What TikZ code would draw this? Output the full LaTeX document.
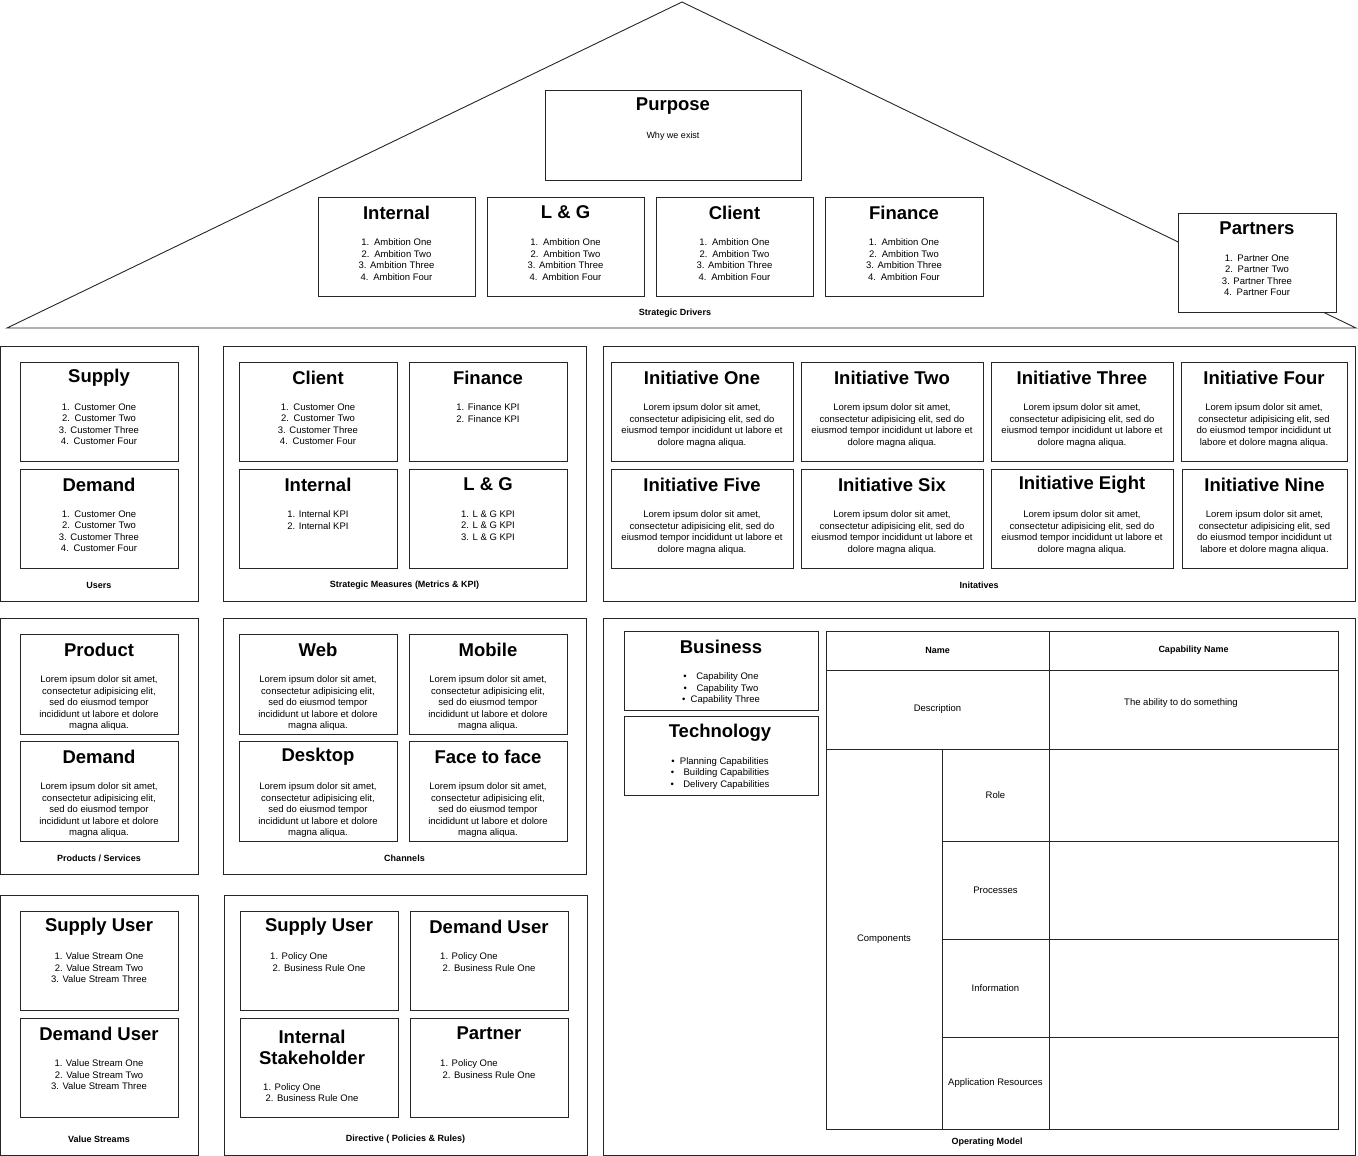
\documentclass[tikz,border=0pt]{standalone}
\usepackage{fontspec}
\setmainfont{Liberation Sans}
\usetikzlibrary{fit}
\begin{document}
\begin{tikzpicture}[x=1pt,y=-1pt,
  ln/.style={draw=black!85,line width=0.9pt},
  box/.style={ln,inner sep=0pt,fill=white},
  ttl/.style={font=\bfseries\fontsize{18.5}{21}\selectfont,align=center},
  bdy/.style={font=\fontsize{9.5}{11.5}\selectfont,align=center,anchor=north,inner sep=0pt},
  lbl/.style={font=\bfseries\fontsize{9}{11}\selectfont},
  cell/.style={font=\fontsize{9.5}{11.5}\selectfont}]
\newcommand\card[7]{%
  \node[box,fit={(#2,#3)(#4,#5)}] (#1) {};
  \node[ttl] (#1t) at ([yshift=-16pt]#1.north) {#6};
  \node[bdy] (#1b) at ([yshift=-42pt]#1.north) {#7};}
\newcommand\panel[6]{%
  \node[box,fit={(#2,#3)(#4,#5)}] (#1) {};
  \node[lbl] (#1l) at ([yshift=16pt]#1.south) {#6};}
\useasboundingbox (0,0) rectangle (1358,1156);
% roof
\coordinate (rl) at (7,328); \coordinate (ra) at (682,2); \coordinate (rr) at (1356,328);
\draw[ln] (rl) -- (ra) -- (rr) -- cycle;
\node[lbl] (sd) at (675,313) {Strategic Drivers};
\node[box,fit={(545,90)(801,180)}] (pur) {};
\node[ttl] (purt) at (673,106) {Purpose};
\node[cell] (purb) at (673,136) {\fontsize{9}{11}\selectfont Why we exist};
\newcommand\amb{1.\enspace Ambition One\\2.\enspace Ambition Two\\3. Ambition Three\\4.\enspace Ambition Four}
\card{a1}{318}{197}{475}{296}{Internal}{\amb}
\card{a2}{487}{197}{644}{296}{L \& G}{\amb}
\card{a3}{656}{197}{813}{296}{Client}{\amb}
\card{a4}{825}{197}{983}{296}{Finance}{\amb}
\card{par}{1178}{213}{1336}{312}{Partners}{1.\enspace Partner One\\2.\enspace Partner Two\\3. Partner Three\\4.\enspace Partner Four}
% row 1
\panel{pu}{0}{346}{198}{601}{Users}
\panel{pm}{223}{346}{586}{601}{Strategic Measures (Metrics \& KPI)}
\panel{pi}{603}{346}{1355}{601}{Initatives}
\newcommand\cust{1.\enspace Customer One\\2.\enspace Customer Two\\3. Customer Three\\4.\enspace Customer Four}
\card{su}{20}{362}{178}{461}{Supply}{\cust}
\card{de}{20}{469}{178}{568}{Demand}{\cust}
\card{cl}{239}{362}{397}{461}{Client}{\cust}
\card{fi}{409}{362}{567}{461}{Finance}{1. Finance KPI\\2. Finance KPI}
\card{in}{239}{469}{397}{568}{Internal}{1. Internal KPI\\2. Internal KPI}
\card{lg}{409}{469}{567}{568}{L \& G}{1. L \& G KPI\\2. L \& G KPI\\3. L \& G KPI}
\newcommand\lorA{Lorem ipsum dolor sit amet,\\consectetur adipisicing elit, sed do\\eiusmod tempor incididunt ut labore et\\dolore magna aliqua.}
\newcommand\lorB{Lorem ipsum dolor sit amet,\\consectetur adipisicing elit, sed\\do eiusmod tempor incididunt ut\\labore et dolore magna aliqua.}
\card{i1}{611}{362}{793}{461}{Initiative One}{\lorA}
\card{i2}{801}{362}{983}{461}{Initiative Two}{\lorA}
\card{i3}{991}{362}{1173}{461}{Initiative Three}{\lorA}
\card{i4}{1181}{362}{1347}{461}{Initiative Four}{\lorB}
\card{i5}{611}{469}{793}{568}{Initiative Five}{\lorA}
\card{i6}{801}{469}{983}{568}{Initiative Six}{\lorA}
\card{i8}{991}{469}{1173}{568}{Initiative Eight}{\lorA}
\card{i9}{1182}{469}{1347}{568}{Initiative Nine}{\lorB}
% row 2
\panel{pp}{0}{618}{198}{874}{Products / Services}
\panel{pc}{223}{618}{586}{874}{Channels}
\node[box,fit={(603,618)(1355,1155)}] (po) {};
\node[lbl] (pol) at (987,1142) {Operating Model};
\newcommand\lorC{Lorem ipsum dolor sit amet,\\consectetur adipisicing elit,\\sed do eiusmod tempor\\incididunt ut labore et dolore\\magna aliqua.}
\card{pr}{20}{634}{178}{734}{Product}{\lorC}
\card{dm}{20}{741}{178}{841}{Demand}{\lorC}
\card{we}{239}{634}{397}{734}{Web}{\lorC}
\card{mo}{409}{634}{567}{734}{Mobile}{\lorC}
\card{dk}{239}{741}{397}{841}{Desktop}{\lorC}
\card{ff}{409}{741}{567}{841}{Face to face}{\lorC}
% row 3
\panel{pv}{0}{895}{198}{1155}{Value Streams}
\panel{pd}{224}{895}{587}{1155}{Directive ( Policies \& Rules)}
\newcommand\vs{1. Value Stream One\\2. Value Stream Two\\3. Value Stream Three}
\newcommand\pol{1. Policy One\phantom{Rule One}\\2. Business Rule One}
\card{vs1}{20}{911}{178}{1010}{Supply User}{\vs}
\card{vs2}{20}{1018}{178}{1117}{Demand User}{\vs}
\card{d1}{240}{911}{398}{1010}{Supply User}{\pol}
\card{d2}{410}{911}{568}{1010}{Demand User}{\pol}
\node[box,fit={(240,1018)(398,1117)}] (d3) {};
\node[ttl] (d3t) at (312,1047) {Internal\\Stakeholder};
\node[bdy] (d3b) at (312,1083) {\pol};
\card{d4}{410}{1018}{568}{1117}{Partner}{\pol}
% operating model
\card{bu}{624}{631}{818}{710}{Business}{\textbullet\quad Capability One\\\textbullet\quad Capability Two\\\textbullet\ \ Capability Three}
\node[box,fit={(624,716)(818,795)}] (te) {};
\node[ttl] (tet) at (720,733) {Technology};
\node[bdy] (teb) at (720,757) {\textbullet\ \ Planning Capabilities\\\textbullet\quad Building Capabilities\\\textbullet\quad Delivery Capabilities};
% table
\node[box,fit={(826,631)(1049,670)}] (tn) {};
\node[box,fit={(1049,631)(1338,670)}] (tcn) {};
\node[cell,font=\bfseries\fontsize{9}{11}\selectfont] at (tn) {Name};
\node[cell,font=\bfseries\fontsize{9}{11}\selectfont] at (tcn) {Capability Name};
\node[box,fit={(826,670)(1049,749)}] (td) {};
\node[box,fit={(1049,670)(1338,749)}] (tdv) {};
\node[cell] at (td) {Description};
\node[cell] at (1181,703) {The ability to do something};
\node[box,fit={(826,749)(942,1129)}] (tc) {};
\node[cell] at (tc) {Components};
\node[box,fit={(942,749)(1049,841)}] (r1) {}; \node[box,fit={(1049,749)(1338,841)}] (r1v) {};
\node[box,fit={(942,841)(1049,939)}] (r2) {}; \node[box,fit={(1049,841)(1338,939)}] (r2v) {};
\node[box,fit={(942,939)(1049,1037)}] (r3) {}; \node[box,fit={(1049,939)(1338,1037)}] (r3v) {};
\node[box,fit={(942,1037)(1049,1129)}] (r4) {}; \node[box,fit={(1049,1037)(1338,1129)}] (r4v) {};
\node[cell] at (r1) {Role};
\node[cell] at (r2) {Processes};
\node[cell] at (r3) {Information};
\node[cell] at (r4) {Application Resources};
\end{tikzpicture}
\end{document}
